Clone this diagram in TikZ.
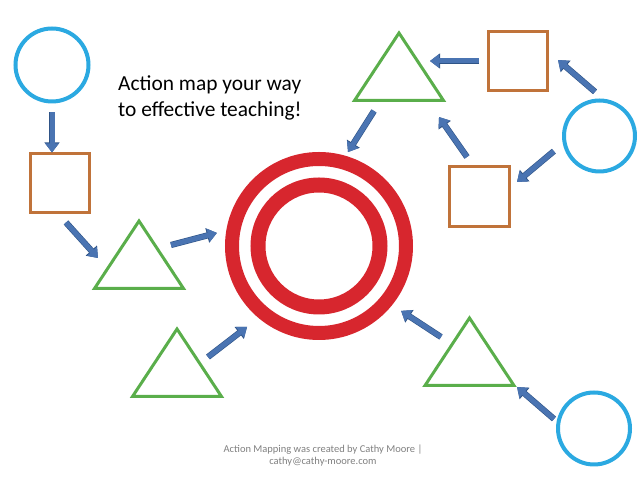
\documentclass[tikz,border=0pt]{standalone}
\usepackage{fontspec}
\setmainfont{Carlito}
\usepackage{tikz}
\usetikzlibrary{arrows.meta}
\definecolor{ringred}{HTML}{D7262E}
\definecolor{goalblue}{HTML}{2BA9E1}
\definecolor{actbrown}{HTML}{C0733A}
\definecolor{practgreen}{HTML}{5AAE4B}
\definecolor{flowblue}{HTML}{4A74B2}
\definecolor{flowedge}{HTML}{2F5487}
\definecolor{notegray}{HTML}{808080}
\tikzset{>=stealth,
  goal/.style={circle,draw=goalblue,line width=4pt,inner sep=0pt},
  act/.style={rectangle,draw=actbrown,line width=3pt,inner sep=0pt},
  practice/.style={draw=practgreen,line width=3pt,line join=miter},
  ring/.style={circle,draw=ringred,inner sep=0pt},
  flow/.style={flowblue,line width=5pt,-{Triangle[length=9pt,width=13pt]},
    preaction={draw=flowedge,line width=6.2pt,-{Triangle[length=10pt,width=14.5pt]}}}}

\begin{document}
\begin{tikzpicture}[x=1pt,y=1pt]
  \useasboundingbox (0,0) rectangle (638,479);

  % the target
  \node [ring,minimum size=174pt,line width=14pt] (target) at (319,233) {};
  \node [ring,minimum size=122pt,line width=15pt] (bull) at (319,233) {};

  \node [goal,minimum size=73pt] (c1) at (52,414) {};
  \node [goal,minimum size=71pt] (c2) at (599.5,343) {};
  \node [goal,minimum size=72pt] (c3) at (594,50.5) {};

  \node [act,minimum size=59pt] (s1) at (60,295.5) {};
  \node [act,minimum size=59pt] (s2) at (518,418) {};
  \node [act,minimum size=60pt] (s3) at (479.5,282) {};

  \foreach \n/\x/\y in {t1/139/190.5, t2/177/82.5, t3/399/378.5, t4/469.5/93.5}{
    \coordinate (\n) at (\x,\y);
    \draw [practice] (\n) ++(-44.5,0) -- ++(89,0) -- ++(-44.5,67.5) -- cycle;
  }

  \draw [flow] ([yshift=-9pt]c1.south) -- (c1.south |- s1.north);
  \draw [flow] ([shift={(6,-8)}]s1.south) -- ([shift={(-41,30.5)}]t1);
  \draw [flow] ([shift={(32,43.5)}]t1) -- ([xshift=-9pt]target.172);
  \draw [flow] ([shift={(31,39.5)}]t2) -- ([shift={(-9,-11)}]target.228);

  \draw [flow] ([xshift=-8pt]s2.west) -- ([shift={(31,39.5)}]t3);
  \draw [flow] ([shift={(-4.5,6.7)}]c2.north) -- ([shift={(9,1)}]s2.east);
  \draw [flow] ([shift={(-10,-3.6)}]c2.198) -- ([shift={(6,-16.5)}]s3.north east);
  \draw [flow] ([shift={(-12.5,8.5)}]s3.north) -- ([shift={(40,-16.5)}]t3);
  \draw [flow] ([shift={(-25,-10.5)}]t3) -- ([shift={(1.5,4)}]target.73);

  \draw [flow] ([shift={(-28.5,48.5)}]t4) -- ([shift={(8,-7)}]target.322);
  \draw [flow] ([shift={(-3,1)}]c3.167) -- ([shift={(47.5,-1.5)}]t4);

  \node [anchor=north west,align=left,inner sep=0pt,
    font=\fontsize{21.4}{26.5}\selectfont] (title) at (118,403.5)
    {Action map your way\\to effective teaching!};
  \node [anchor=north,align=center,inner sep=0pt,text=notegray,
    font=\fontsize{10.5}{12}\selectfont] (credit) at (323,34.5)
    {Action Mapping was created by Cathy Moore |\\cathy@cathy-moore.com};
\end{tikzpicture}
\end{document}
